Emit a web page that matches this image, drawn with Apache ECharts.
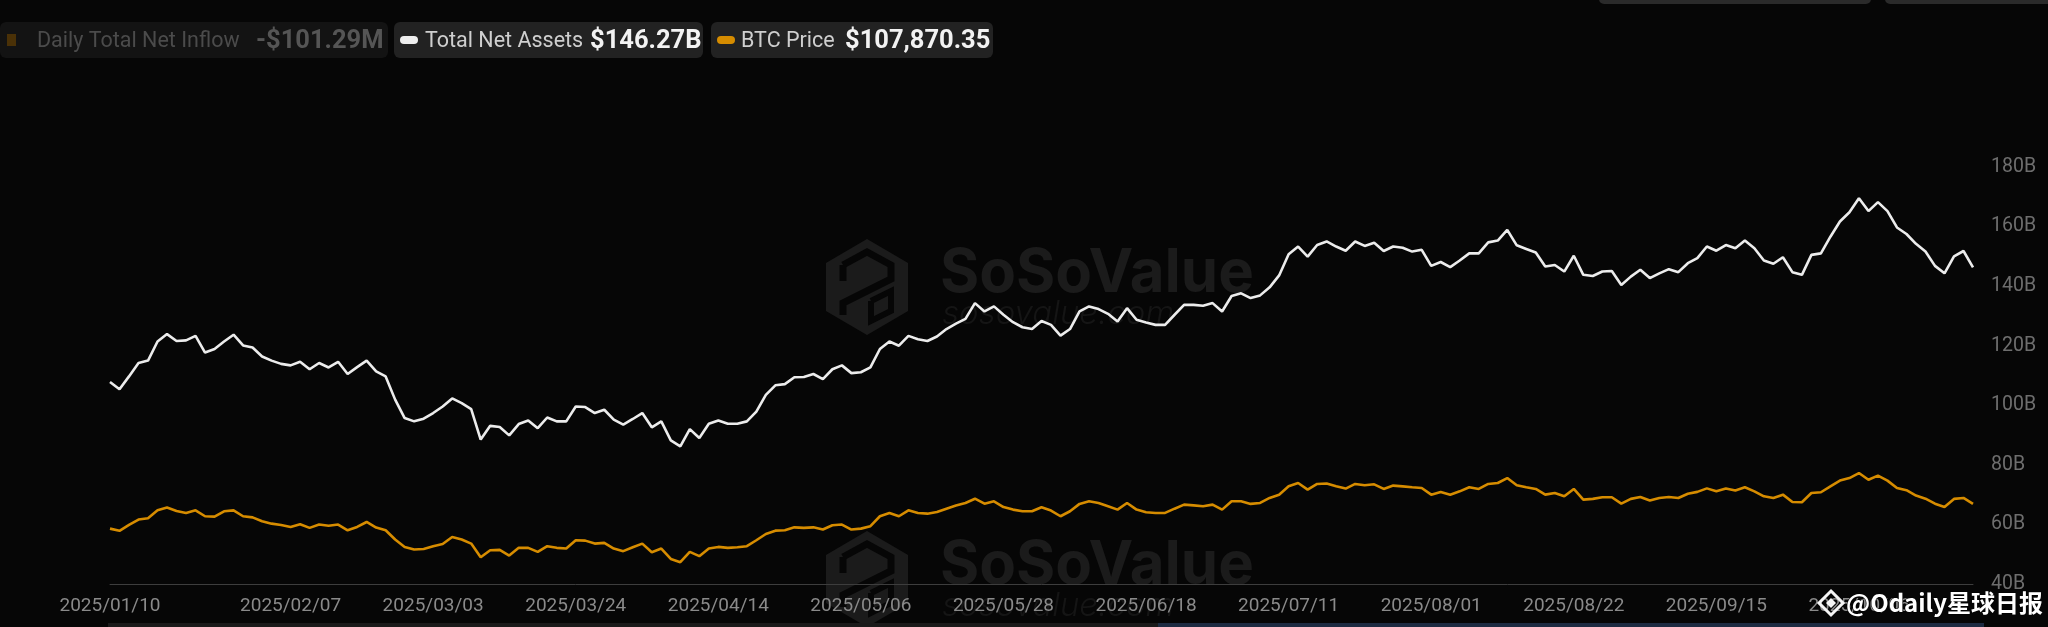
<!DOCTYPE html>
<html>
<head>
<meta charset="utf-8">
<script src="https://cdn.jsdelivr.net/npm/echarts@6/dist/echarts.min.js"></script>
<style>
  html, body { margin: 0; padding: 0; background: #060606; }
  #chart { width: 2048px; height: 627px; }
</style>
</head>
<body>
<div id="chart"></div>
<script>
// ---------- DATA ----------
const dates = [
'2025/01/10','2025/01/13','2025/01/14','2025/01/15','2025/01/16','2025/01/17','2025/01/21','2025/01/22','2025/01/23','2025/01/24','2025/01/27','2025/01/28','2025/01/29','2025/01/30','2025/01/31',
'2025/02/03','2025/02/04','2025/02/05','2025/02/06','2025/02/07','2025/02/10','2025/02/11','2025/02/12','2025/02/13','2025/02/14','2025/02/18','2025/02/19','2025/02/20','2025/02/21','2025/02/24','2025/02/25','2025/02/26','2025/02/27','2025/02/28',
'2025/03/03','2025/03/04','2025/03/05','2025/03/06','2025/03/07','2025/03/10','2025/03/11','2025/03/12','2025/03/13','2025/03/14','2025/03/17','2025/03/18','2025/03/19','2025/03/20','2025/03/21','2025/03/24','2025/03/25','2025/03/26','2025/03/27','2025/03/28','2025/03/31',
'2025/04/01','2025/04/02','2025/04/03','2025/04/04','2025/04/07','2025/04/08','2025/04/09','2025/04/10','2025/04/11','2025/04/14','2025/04/15','2025/04/16','2025/04/17','2025/04/21','2025/04/22','2025/04/23','2025/04/24','2025/04/25','2025/04/28','2025/04/29','2025/04/30',
'2025/05/01','2025/05/02','2025/05/05','2025/05/06','2025/05/07','2025/05/08','2025/05/09','2025/05/12','2025/05/13','2025/05/14','2025/05/15','2025/05/16','2025/05/19','2025/05/20','2025/05/21','2025/05/22','2025/05/23','2025/05/27','2025/05/28','2025/05/29','2025/05/30',
'2025/06/02','2025/06/03','2025/06/04','2025/06/05','2025/06/06','2025/06/09','2025/06/10','2025/06/11','2025/06/12','2025/06/13','2025/06/16','2025/06/17','2025/06/18','2025/06/20','2025/06/23','2025/06/24','2025/06/25','2025/06/26','2025/06/27','2025/06/30',
'2025/07/01','2025/07/02','2025/07/03','2025/07/07','2025/07/08','2025/07/09','2025/07/10','2025/07/11','2025/07/14','2025/07/15','2025/07/16','2025/07/17','2025/07/18','2025/07/21','2025/07/22','2025/07/23','2025/07/24','2025/07/25','2025/07/28','2025/07/29','2025/07/30','2025/07/31',
'2025/08/01','2025/08/04','2025/08/05','2025/08/06','2025/08/07','2025/08/08','2025/08/11','2025/08/12','2025/08/13','2025/08/14','2025/08/15','2025/08/18','2025/08/19','2025/08/20','2025/08/21','2025/08/22','2025/08/25','2025/08/26','2025/08/27','2025/08/28','2025/08/29',
'2025/09/02','2025/09/03','2025/09/04','2025/09/05','2025/09/08','2025/09/09','2025/09/10','2025/09/11','2025/09/12','2025/09/15','2025/09/16','2025/09/17','2025/09/18','2025/09/19','2025/09/22','2025/09/23','2025/09/24','2025/09/25','2025/09/26','2025/09/29','2025/09/30',
'2025/10/01','2025/10/02','2025/10/03','2025/10/06','2025/10/07','2025/10/08','2025/10/09','2025/10/10','2025/10/13','2025/10/14','2025/10/15','2025/10/16','2025/10/17','2025/10/20','2025/10/21','2025/10/22'
];

// Total Net Assets, billions USD
const totalNetAssets = [
107.8,105.4,109.7,114.2,115.0,121.4,123.9,121.6,121.8,123.3,
117.7,118.9,121.4,123.7,120.1,119.4,116.4,115.0,113.9,113.4,
114.6,112.1,114.2,112.7,114.6,110.5,112.8,115.0,111.4,109.7,
101.9,95.7,94.6,95.5,97.4,99.6,102.3,100.7,98.7,88.5,
93.1,92.7,89.9,93.7,94.9,92.3,95.9,94.6,94.6,99.6,
99.4,97.4,98.5,95.2,93.5,95.4,97.4,92.6,94.6,88.2,
86.2,92.0,89.0,93.8,94.9,93.8,93.8,94.6,97.9,103.5,
106.7,107.1,109.4,109.5,110.5,108.8,112.1,113.4,110.8,111.1,
112.7,118.9,121.4,120.0,123.3,122.2,121.6,123.1,125.6,127.4,
129.0,134.3,131.5,133.2,130.4,127.9,126.2,125.6,128.3,127.0,
123.4,125.6,131.5,133.2,132.3,130.7,128.1,132.6,128.7,127.8,
127.0,127.0,130.4,133.7,133.7,133.4,134.3,131.5,136.7,137.6,
136.0,136.9,139.6,143.6,150.7,153.3,149.9,153.8,155.0,153.3,
151.9,155.0,153.5,154.6,151.8,153.3,152.9,151.6,152.2,146.8,
148.1,146.4,148.6,151.0,151.0,154.7,155.3,158.9,153.7,152.5,
151.3,146.6,147.1,144.9,150.2,143.8,143.4,144.9,145.1,140.4,
143.2,145.5,142.7,144.3,145.7,144.7,147.7,149.4,153.3,151.9,
153.8,152.7,155.3,152.7,148.6,147.5,149.7,144.7,143.8,150.5,
151.0,156.6,161.7,164.8,169.5,165.2,168.2,165.2,159.7,157.5,
154.2,151.6,146.8,144.3,150.0,151.8,146.27
];

// BTC price, thousands USD
const btcPriceK = [
94.5,93.3,96.5,99.4,100.1,104.4,105.9,104.1,103.0,104.4,
101.2,101.0,103.9,104.4,101.2,100.6,98.5,97.2,96.5,95.4,
96.9,94.9,96.7,96.1,96.7,93.6,95.4,98.1,95.1,93.6,
88.6,84.6,83.2,83.5,85.0,86.2,90.0,88.6,86.4,79.0,
82.8,83.0,79.9,84.1,84.1,81.9,85.0,84.1,83.7,88.2,
88.0,86.4,86.8,83.7,82.3,84.4,86.4,81.7,83.7,78.1,
76.3,81.9,79.6,83.7,84.6,84.1,84.4,85.0,88.2,91.6,
93.4,93.6,95.2,94.9,95.2,94.0,96.3,96.7,94.0,94.5,
95.8,101.2,103.0,101.2,104.4,103.0,102.6,103.5,105.3,107.0,
108.4,110.7,108.0,109.3,106.2,104.8,103.9,103.9,106.1,104.3,
101.2,103.9,107.9,109.3,108.4,106.6,104.8,108.4,104.8,103.4,
103.0,103.0,105.3,107.5,107.1,106.6,107.5,104.8,109.3,109.3,
107.9,108.4,111.1,112.9,117.4,119.2,115.6,118.7,118.9,117.4,
116.2,118.7,118.0,118.5,116.0,117.8,117.4,116.9,116.5,112.9,
114.4,112.9,114.7,116.9,116.0,118.7,119.2,121.9,118.0,116.9,
116.0,112.9,113.8,112.0,116.0,110.2,110.6,111.5,111.5,108.0,
110.6,111.6,109.7,111.1,111.6,111.1,113.4,114.4,116.3,114.7,
116.2,115.1,116.9,114.7,112.0,111.1,112.9,108.9,108.8,113.8,
114.2,117.4,120.5,121.9,124.6,121.0,123.2,120.5,116.5,115.3,
112.4,110.7,108.0,106.2,110.6,111.1,107.87
];

const yTicks = [40, 180, 20];           // min, max, interval (B)
const legendNames = ['Daily Total Net Inflow', 'Total Net Assets', 'BTC Price'];
const latestNetInflowM = -101.29;
const latestNetAssetsB = 146.27;
const latestBtcPrice = 107870.35;

// ---------- CHART ----------
const chart = echarts.init(document.getElementById('chart'), null, { renderer: 'canvas' });

const fmtInflow = (latestNetInflowM < 0 ? '-' : '') + '$' + Math.abs(latestNetInflowM).toFixed(2) + 'M';
const fmtAssets = '$' + latestNetAssetsB.toFixed(2) + 'B';
const fmtBtc = '$' + latestBtcPrice.toLocaleString('en-US', { minimumFractionDigits: 2, maximumFractionDigits: 2 });

const BG = '#060606';
const WM = '#1b1b1b';

function watermark(dy) {
  const cx = 867, cy = 287 + dy;
  return [
    { type: 'polygon', silent: true, z: -10,
      shape: { points: [[cx, cy - 48], [cx + 41, cy - 24], [cx + 41, cy + 24], [cx, cy + 48], [cx - 41, cy + 24], [cx - 41, cy - 24]] },
      style: { fill: WM } },
    { type: 'polyline', silent: true, z: -9,
      shape: { points: [[cx - 24, cy - 22], [cx, cy - 35], [cx + 24, cy - 22], [cx + 24, cy - 8], [cx, cy + 4], [cx - 24, cy + 16], [cx - 24, cy + 28]] },
      style: { stroke: BG, lineWidth: 7, fill: null } },
    { type: 'polyline', silent: true, z: -9,
      shape: { points: [[cx - 24, cy - 22], [cx - 24, cy - 6]] },
      style: { stroke: BG, lineWidth: 7, fill: null } },
    { type: 'polyline', silent: true, z: -9,
      shape: { points: [[cx + 4, cy + 14], [cx + 24, cy + 4], [cx + 24, cy + 24], [cx + 4, cy + 34], [cx + 4, cy + 14]] },
      style: { stroke: BG, lineWidth: 6, fill: null } },
    { type: 'text', silent: true, z: -10, x: 940, y: 274 + dy,
      style: { text: 'SoSoValue', font: 'bold 60px Inter', fill: WM, align: 'left', verticalAlign: 'middle' } },
    { type: 'text', silent: true, z: -10, x: 942, y: 314 + dy,
      style: { text: 'sosovalue.com', font: 'italic 300 33px Inter', fill: '#151515', align: 'left', verticalAlign: 'middle' } }
  ];
}

const NAME_FONT = '21.5px Roboto';
const VAL_FONT = 'bold 25.5px Roboto';
const TY = 41.5;

const legendGraphics = [
  // box 1 (inactive)
  { type: 'rect', shape: { x: 0, y: 22, width: 388, height: 36, r: 6 }, style: { fill: '#131313' } },
  { type: 'rect', shape: { x: 7, y: 34, width: 9, height: 12 }, style: { fill: '#4a3107' } },
  { type: 'text', x: 37, y: TY, style: { text: legendNames[0], font: NAME_FONT, fill: '#4b4b4b', verticalAlign: 'middle' } },
  { type: 'text', x: 256, y: TY, style: { text: fmtInflow, font: VAL_FONT, fill: '#555555', verticalAlign: 'middle' } },
  // box 2
  { type: 'rect', shape: { x: 394, y: 22, width: 309, height: 36, r: 6 }, style: { fill: '#222222' } },
  { type: 'rect', shape: { x: 400, y: 36, width: 18, height: 8, r: 4 }, style: { fill: '#eeeeee' } },
  { type: 'text', x: 425, y: TY, style: { text: legendNames[1], font: NAME_FONT, fill: '#cfcfcf', verticalAlign: 'middle' } },
  { type: 'text', x: 590, y: TY, style: { text: fmtAssets, font: VAL_FONT, fill: '#f2f2f2', verticalAlign: 'middle' } },
  // box 3
  { type: 'rect', shape: { x: 711, y: 22, width: 282, height: 36, r: 6 }, style: { fill: '#222222' } },
  { type: 'rect', shape: { x: 717, y: 36, width: 18, height: 8, r: 4 }, style: { fill: '#d68c00' } },
  { type: 'text', x: 741, y: TY, style: { text: legendNames[2], font: NAME_FONT, fill: '#cfcfcf', verticalAlign: 'middle' } },
  { type: 'text', x: 845, y: TY, style: { text: fmtBtc, font: VAL_FONT, fill: '#f2f2f2', verticalAlign: 'middle' } }
];

const decorGraphics = [
  // top right button slivers
  { type: 'rect', shape: { x: 1599, y: -10, width: 272, height: 14, r: 5 }, style: { fill: '#2a2a2a' } },
  { type: 'rect', shape: { x: 1885, y: -10, width: 170, height: 14, r: 5 }, style: { fill: '#2a2a2a' } },
  // bottom slider strip
  { type: 'rect', shape: { x: 108, y: 623, width: 1876, height: 4 }, style: { fill: '#1a1a1a' } },
  { type: 'rect', shape: { x: 1158, y: 623, width: 826, height: 4 }, style: { fill: '#1d2b42' } },
  // Odaily watermark
  { type: 'polygon', z: 100, shape: { points: [[1831, 591], [1843, 603], [1831, 615], [1819, 603]] },
    style: { fill: null, stroke: '#f5f5f5', lineWidth: 3 } },
  { type: 'polygon', z: 100, shape: { points: [[1831, 598], [1836, 603], [1831, 608], [1826, 603]] },
    style: { fill: '#f5f5f5' } },
  { type: 'text', z: 100, x: 1846, y: 603,
    style: { text: '@Odaily星球日报', font: 'bold 24px "Noto Sans CJK SC"', fill: '#ffffff', verticalAlign: 'middle',
             stroke: '#000000', lineWidth: 1 } }
];

const option = {
  backgroundColor: BG,
  animation: false,
  grid: { left: 110, right: 75, top: 167, bottom: 43, containLabel: false },
  xAxis: {
    type: 'category',
    data: dates,
    boundaryGap: false,
    axisLine: { show: true, lineStyle: { color: '#3d3d3d', width: 1 } },
    axisTick: { show: false },
    splitLine: { show: false },
    axisLabel: {
      color: '#8a8a8a',
      fontFamily: 'Roboto',
      fontSize: 19,
      margin: 13,
      interval: function (i) { return i === 0 || (i >= 19 && (i - 19) % 15 === 0); }
    }
  },
  yAxis: [
    {
      type: 'value',
      position: 'right',
      min: yTicks[0], max: yTicks[1], interval: yTicks[2],
      axisLine: { show: false },
      axisTick: { show: false },
      splitLine: { show: false },
      axisLabel: { color: '#6e6e6e', fontFamily: 'Roboto', fontSize: 19.5, margin: 18, formatter: '{value}B' }
    },
    {
      type: 'value',
      show: false,
      min: yTicks[0] / 0.62,
      max: yTicks[1] / 0.62,
      splitLine: { show: false }
    }
  ],
  series: [
    {
      name: legendNames[2], type: 'line', yAxisIndex: 1, data: btcPriceK,
      showSymbol: false, symbol: 'none', z: 3,
      lineStyle: { color: '#d68c00', width: 2.6 }
    },
    {
      name: legendNames[1], type: 'line', yAxisIndex: 0, data: totalNetAssets,
      showSymbol: false, symbol: 'none', z: 4,
      lineStyle: { color: '#ececec', width: 2.6 }
    }
  ],
  graphic: [].concat(watermark(0), watermark(292), legendGraphics, decorGraphics)
};

chart.setOption(option);
</script>
</body>
</html>
